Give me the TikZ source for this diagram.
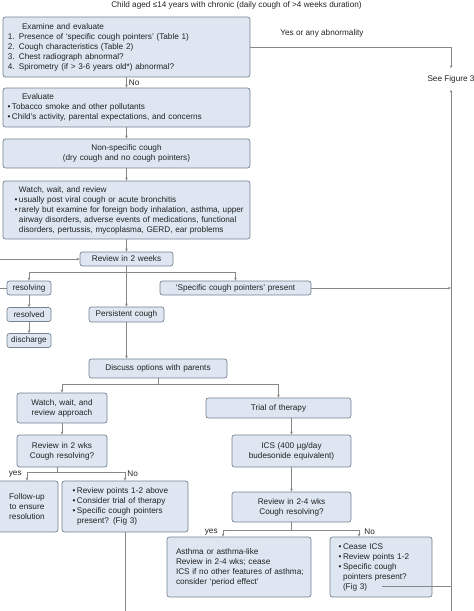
\documentclass[tikz,border=0pt]{standalone}
\usepackage{fontspec}
\setmainfont{Liberation Sans}
\usetikzlibrary{arrows.meta}
\definecolor{boxfill}{RGB}{221,230,241}
\definecolor{boxline}{RGB}{118,130,144}
\definecolor{linkgray}{RGB}{135,135,135}
\definecolor{txt}{RGB}{35,35,35}
\newcommand{\bul}{\makebox[0pt][r]{\textbullet\hspace{1.6pt}}}

\begin{document}
\begin{tikzpicture}[x=1pt,y=-1pt,>={Stealth[length=3pt,width=2.6pt]},
  font=\fontsize{8.2}{10}\selectfont,text=txt,
  box/.style={draw=boxline,fill=boxfill,rounded corners=2.5pt,line width=0.7pt,inner ysep=0pt},
  link/.style={draw=linkgray,line width=0.75pt},
  lab/.style={inner sep=1pt}]
\useasboundingbox (0,0) rectangle (474,611);
\node (title) at (236.5,5) {Child aged ≤14 years with chronic (daily cough of >4 weeks duration)};
\node[box,text width=237pt,inner xsep=5pt,minimum height=60pt,align=left] (exam) at (126.5,47)
  {\hspace*{14pt}Examine and evaluate\\
   1. Presence of ‘specific cough pointers’ (Table 1)\\
   2. Cough characteristics (Table 2)\\
   3. Chest radiograph abnormal?\\
   4. Spirometry (if > 3-6 years old*) abnormal?};
\node[box,text width=229pt,inner xsep=9pt,minimum height=39pt,align=left] (eval) at (126.5,107.5)
  {\hspace*{10pt}Evaluate\\
   \bul Tobacco smoke and other pollutants\\
   \bul Child’s activity, parental expectations, and concerns};
\node[box,text width=237pt,inner xsep=5pt,minimum height=29pt,align=center] (nonspec) at (126.5,153.5)
  {Non-specific cough\\(dry cough and no cough pointers)};
\node[box,text width=243pt,inner xsep=2pt,minimum height=58pt,align=left] (watch) at (126.5,210)
  {\hspace*{14pt}Watch, wait, and review\\
   \hspace*{14pt}\bul usually post viral cough or acute bronchitis\\
   \mbox{\hspace*{14pt}\bul rarely but examine for foreign body inhalation, asthma, upper}\\
   \hspace*{14pt}airway disorders, adverse events of medications, functional\\
   \hspace*{14pt}disorders, pertussis, mycoplasma, GERD, ear problems};
\node[box,text width=93pt,inner xsep=0pt,minimum height=14pt,align=center] (rev) at (126.5,259) {Review in 2 weeks};
\node[box,text width=44pt,inner xsep=0pt,minimum height=14pt,align=center] (resolving) at (29,288) {resolving};
\node[box,text width=44pt,inner xsep=0pt,minimum height=14pt,align=center] (resolved) at (29,314.5) {resolved};
\node[box,text width=44pt,inner xsep=0pt,minimum height=14pt,align=center] (discharge) at (29,340.5) {discharge};
\node[box,text width=75pt,inner xsep=0pt,minimum height=15pt,align=center] (persist) at (126.5,314.5) {Persistent cough};
\node[box,text width=151pt,inner xsep=0pt,minimum height=14pt,align=center] (spec) at (235.5,288) {‘Specific cough pointers’ present};
\node[box,text width=138pt,inner xsep=0pt,minimum height=19pt,align=center] (discuss) at (158,368.5) {Discuss options with parents};
\node[box,text width=90pt,inner xsep=0pt,minimum height=30pt,align=center] (wwr) at (62,408) {Watch, wait, and\\review approach};
\node[box,text width=145pt,inner xsep=0pt,minimum height=20pt,align=center] (trial) at (278.5,408) {Trial of therapy};
\node[box,text width=90pt,inner xsep=0pt,minimum height=32pt,align=center] (rev2) at (62,451) {Review in 2 wks\\Cough resolving?};
\node[box,text width=119pt,inner xsep=0pt,minimum height=32pt,align=center] (ics) at (291.5,451) {ICS (400 µg/day\\budesonide equivalent)};
\node[box,text width=119pt,inner xsep=0pt,minimum height=30pt,align=center] (rev24) at (291.5,507) {Review in 2-4 wks\\Cough resolving?};
\node[box,text width=62pt,inner xsep=0pt,minimum height=51pt,align=center] (follow) at (27,506.5) {Follow-up\\to ensure\\resolution};
\node[box,text width=112pt,inner xsep=7pt,minimum height=51pt,align=left] (nobox) at (125,506.5)
  {\hspace*{8pt}\bul Review points 1-2 above\\
   \hspace*{8pt}\bul Consider trial of therapy\\
   \hspace*{8pt}\bul Specific cough pointers\\
   \hspace*{8pt}present? (Fig 3)};
\node[box,text width=140pt,inner xsep=2pt,minimum height=60pt,align=left] (asthma) at (239,567)
  {\hspace*{7pt}Asthma or asthma-like\\
   \hspace*{7pt}Review in 2-4 wks; cease\\
   \hspace*{7pt}ICS if no other features of asthma;\\
   \hspace*{7pt}consider ‘period effect’};
\node[box,text width=90pt,inner xsep=6pt,minimum height=60pt,align=left] (cease) at (381,567)
  {\hspace*{7pt}\bul Cease ICS\\
   \hspace*{7pt}\bul Review points 1-2\\
   \hspace*{7pt}\bul Specific cough\\
   \hspace*{7pt}pointers present?\\
   \hspace*{7pt}(Fig 3)};
\node[minimum height=21pt,inner sep=0pt] (seefig) at (451,79) {See Figure 3};
\coordinate (edgeA) at (0,259);
\coordinate (edgeB) at (0,288);
\coordinate (revfork) at (126.5,272);
\coordinate (discfork) at (158,384);
\coordinate (r2fork) at (57,472);
\coordinate (yesx) at (223,530);
\coordinate (nox) at (359,530);
\coordinate (figend) at (382,586);
\coordinate (botL) at (125,611);
\coordinate (botR) at (451,611);
\draw[link,->] (exam.east) -| (seefig.north);
\node[lab] (yesabn) at (322,33) {Yes or any abnormality};
\draw[link,->] (exam.south) -- (eval.north) node[midway,right=1pt,lab] {No};
\draw[link,->] (eval.south) -- (nonspec.north);
\draw[link,->] (nonspec.south) -- (watch.north);
\draw[link,->] (watch.south) -- (rev.north);
\draw[link,->] (edgeA) -- (rev.west);
\draw[link] (resolving.west) -- (edgeB);
\draw[link,->] (rev.south) -- (persist.north);
\draw[link,->] (revfork) -| (resolving.north);
\draw[link,->] (revfork) -| (spec.north);
\draw[link,->] (resolving.south) -- (resolved.north);
\draw[link,->] (resolved.south) -- (discharge.north);
\draw[link,->] (spec.east) -- (spec.east -| seefig.south);
\draw[link,->] (persist.south) -- (discuss.north -| persist.south);
\draw[link] (discuss.south) -- (discfork);
\draw[link,->] (discfork) -| (wwr.north);
\draw[link,->] (discfork) -| (trial.north);
\draw[link,->] (wwr.south) -- (rev2.north);
\draw[link,->] (trial.south -| ics.north) -- (ics.north);
\draw[link,->] (ics.south) -- (rev24.north);
\draw[link] (rev2.south -| r2fork) -- (r2fork);
\draw[link,->] (r2fork) -| (follow.north) node[pos=0.5,left=4pt,yshift=-2pt,lab] {yes};
\draw[link,->] (r2fork) -| (nobox.north) node[pos=0.5,right=1pt,yshift=-2pt,lab] {No};
\draw[link] (nobox.south) -- (botL);
\draw[link] (rev24.south) -- (rev24.south |- yesx);
\draw[link] (yesx) -- (nox);
\draw[link,->] (yesx) -- (yesx |- asthma.north) node[pos=0,left=4pt,yshift=-2pt,lab] {yes};
\draw[link,->] (nox) -- (nox |- cease.north) node[pos=0,right=4pt,yshift=-2pt,lab] {No};
\draw[link] (figend) -- (figend -| botR);
\draw[link,->] (botR) -- (seefig.south);
\end{tikzpicture}
\end{document}
